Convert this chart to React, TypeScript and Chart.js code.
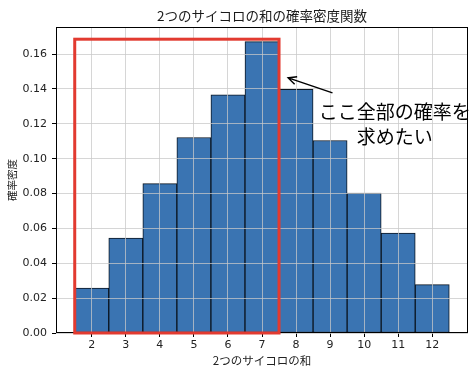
import React, { useEffect, useRef } from "react";
import { Chart, registerables } from "chart.js";

Chart.register(...registerables);

const sums = [2, 3, 4, 5, 6, 7, 8, 9, 10, 11, 12];
const density = [0.0258, 0.0544, 0.0857, 0.1121, 0.1366, 0.1671, 0.1398, 0.1104, 0.0802, 0.0573, 0.0277];
const xTicks = [2, 3, 4, 5, 6, 7, 8, 9, 10, 11, 12];
const yTicks = [0, 0.02, 0.04, 0.06, 0.08, 0.1, 0.12, 0.14, 0.16];
const xRange = [0.95, 13.05];
const yRange = [0, 0.1755];

const highlightX = [1.5, 7.5];
const highlightTop = 0.1685;
const arrowTip = [7.77, 0.1463];
const arrowTail = [9.07, 0.1377];
const noteLines = ["ここ全部の確率を", "求めたい"];
const notePos = [10.9, 0.1268];

const titleText = "2つのサイコロの和の確率密度関数";
const xLabel = "2つのサイコロの和";
const yLabel = "確率密度";

const FONT = "'DejaVu Sans', 'Noto Sans CJK JP', sans-serif";
const CJK = "'Noto Sans CJK JP', 'DejaVu Sans', sans-serif";

const overlay = {
  id: "overlay",
  afterDraw(chart: any) {
    const { ctx, chartArea: a, scales } = chart;
    const x = scales.x;
    const y = scales.y;
    ctx.save();
    // title centred over the plot area
    ctx.fillStyle = "#1a1a1a";
    ctx.font = `13.5px ${CJK}`;
    ctx.textAlign = "center";
    ctx.textBaseline = "middle";
    ctx.fillText(titleText, (a.left + a.right) / 2, a.top - 11);
    // frame
    ctx.strokeStyle = "#000";
    ctx.lineWidth = 1;
    ctx.strokeRect(Math.round(a.left) + 0.5, Math.round(a.top) + 0.5, Math.round(a.right - a.left) - 1, Math.round(a.bottom - a.top) - 1);
    // highlight rectangle
    const x0 = x.getPixelForValue(highlightX[0]);
    const x1 = x.getPixelForValue(highlightX[1]);
    const yb = y.getPixelForValue(0);
    const yt = y.getPixelForValue(highlightTop);
    ctx.strokeStyle = "#e23a30";
    ctx.lineWidth = 3;
    ctx.strokeRect(x0, yt, x1 - x0, yb - yt);
    // arrow
    const tx = x.getPixelForValue(arrowTip[0]);
    const ty = y.getPixelForValue(arrowTip[1]);
    const sx = x.getPixelForValue(arrowTail[0]);
    const sy = y.getPixelForValue(arrowTail[1]);
    ctx.strokeStyle = "#000";
    ctx.lineWidth = 1.5;
    ctx.beginPath();
    ctx.moveTo(sx, sy);
    ctx.lineTo(tx, ty);
    const ang = Math.atan2(sy - ty, sx - tx);
    const hl = 9;
    const spread = 0.45;
    ctx.moveTo(tx + hl * Math.cos(ang + spread), ty + hl * Math.sin(ang + spread));
    ctx.lineTo(tx, ty);
    ctx.lineTo(tx + hl * Math.cos(ang - spread), ty + hl * Math.sin(ang - spread));
    ctx.stroke();
    // note text
    ctx.fillStyle = "#000";
    ctx.font = `19px ${CJK}`;
    ctx.textAlign = "center";
    ctx.textBaseline = "middle";
    const nx = x.getPixelForValue(notePos[0]);
    const ny = y.getPixelForValue(notePos[1]);
    noteLines.forEach((line, i) => ctx.fillText(line, nx, ny + i * 25));
    ctx.restore();
  },
};

export default function App() {
  const ref = useRef<HTMLCanvasElement | null>(null);
  useEffect(() => {
    if (!ref.current) return;
    const gridColor = "rgba(200,200,200,0.75)";
    const chart = new Chart(ref.current, {
      type: "bar",
      data: {
        datasets: [
          {
            data: sums.map((s, i) => ({ x: s, y: density[i] })),
            backgroundColor: "#3a74b2",
            borderColor: "#0b1520",
            borderWidth: 1,
            borderSkipped: false,
            barPercentage: 1,
            categoryPercentage: 1,
          },
        ],
      },
      options: {
        animation: false,
        responsive: false,
        devicePixelRatio: 1,
        layout: { padding: { left: 0, right: 6, top: 27, bottom: 0 } },
        plugins: {
          legend: { display: false },
          tooltip: { enabled: false },
          title: { display: false },
        },
        scales: {
          x: {
            type: "linear",
            min: xRange[0],
            max: xRange[1],
            bounds: "data",
            offset: false,
            afterBuildTicks: (axis: any) => {
              axis.ticks = xTicks.map((v) => ({ value: v }));
            },
            afterFit: (axis: any) => {
              axis.height = 42;
            },
            grid: { color: gridColor, tickColor: "#000", tickLength: 4, lineWidth: 1, offset: false, z: 1 },
            border: { display: false },
            ticks: {
              color: "#222",
              font: { family: FONT, size: 11 },
              padding: 2,
              maxRotation: 0,
              callback: (v: any) => String(v),
            },
            title: {
              display: true,
              text: xLabel,
              color: "#222",
              font: { family: CJK, size: 11.5 },
              padding: { top: 0, bottom: 7 },
            },
          },
          y: {
            type: "linear",
            min: yRange[0],
            max: yRange[1],
            bounds: "data",
            afterBuildTicks: (axis: any) => {
              axis.ticks = yTicks.map((v) => ({ value: v }));
            },
            afterFit: (axis: any) => {
              axis.width = 56;
            },
            grid: { color: gridColor, tickColor: "#000", tickLength: 4, lineWidth: 1, z: 1 },
            border: { display: false },
            ticks: {
              color: "#222",
              font: { family: FONT, size: 11 },
              padding: 5,
              callback: (v: any) => Number(v).toFixed(2),
            },
            title: {
              display: true,
              text: yLabel,
              color: "#222",
              font: { family: CJK, size: 10.5 },
              padding: { top: 6, bottom: 0 },
            },
          },
        },
      },
      plugins: [overlay],
    } as any);
    return () => chart.destroy();
  }, []);
  return (
    <div style={{ position: "absolute", left: 0, top: 0, width: 474, height: 375, background: "#fff" }}>
      <canvas ref={ref} width={474} height={375} style={{ display: "block" }} />
    </div>
  );
}
